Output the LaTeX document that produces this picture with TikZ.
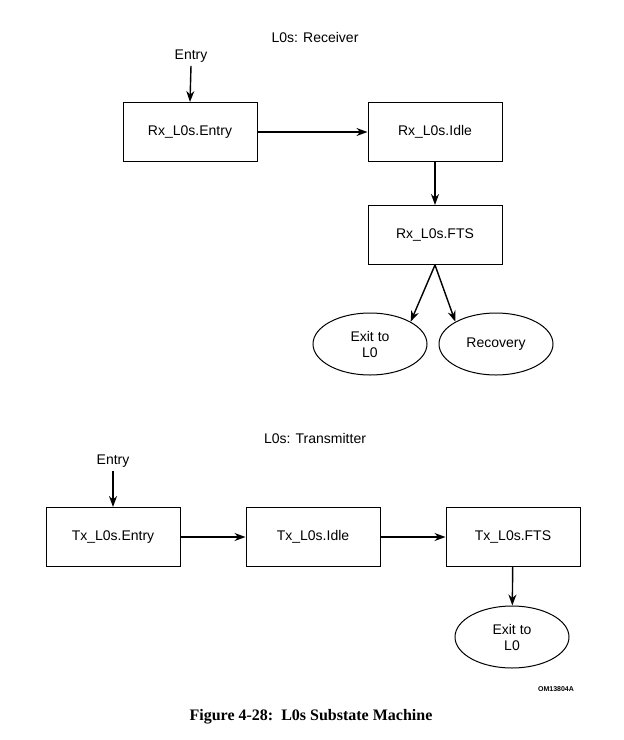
\documentclass[tikz,border=0pt]{standalone}
\usepackage{fontspec}
\setmainfont{Liberation Sans}
\newfontfamily\capfont{Liberation Serif}
\usetikzlibrary{shapes.geometric,arrows.meta}
\begin{document}
\begin{tikzpicture}[x=1pt,y=-1pt,
  box/.style={draw,line width=1pt,minimum width=134pt,minimum height=59pt,font=\fontsize{14}{16}\selectfont},
  st/.style={draw,line width=1pt,ellipse,minimum width=114pt,minimum height=62pt,align=center,font=\fontsize{14}{16}\selectfont},
  lbl/.style={font=\fontsize{14}{16}\selectfont},
  arr/.style={line width=1.4pt,-{Stealth[length=11pt,width=8pt]}}]
\useasboundingbox[fill=white] (0,0) rectangle (624,740);
\node[lbl] (t1) at (315,37) {L0s: Receiver};
\node[lbl] (e1) at (191,56) {Entry};
\node[box] (re) at (190,132) {Rx\_L0s.Entry};
\node[box] (ri) at (435,132) {Rx\_L0s.Idle};
\node[box] (rf) at (435,235) {Rx\_L0s.FTS};
\node[st] (rx0) at (370,344) {Exit to\\L0};
\node[st] (rec) at (496,344) {Recovery};
\draw[arr] (e1.south) -- (re.north);
\draw[arr] (re) -- (ri);
\draw[arr] (ri) -- (rf);
\draw[arr] (rf.south) -- (rx0.north east);
\draw[arr] (rf.south) -- (rec.north west);
\node[lbl] (t2) at (315,438) {L0s: Transmitter};
\node[lbl] (e2) at (113,461) {Entry};
\node[box] (te) at (113,537) {Tx\_L0s.Entry};
\node[box] (ti) at (313,537) {Tx\_L0s.Idle};
\node[box] (tf) at (513,537) {Tx\_L0s.FTS};
\node[st] (tx0) at (512,637) {Exit to\\L0};
\draw[arr] (e2.south) -- (te.north);
\draw[arr] (te) -- (ti);
\draw[arr] (ti) -- (tf);
\draw[arr] (tf) -- (tx0);
\node[font=\bfseries\fontsize{7}{8}\selectfont] (om) at (556,689) {OM13804A};
\node[font=\capfont\bfseries\fontsize{16}{18}\selectfont] (cap) at (311,717) {Figure 4-28:\ \ L0s Substate Machine};
\end{tikzpicture}
\end{document}
